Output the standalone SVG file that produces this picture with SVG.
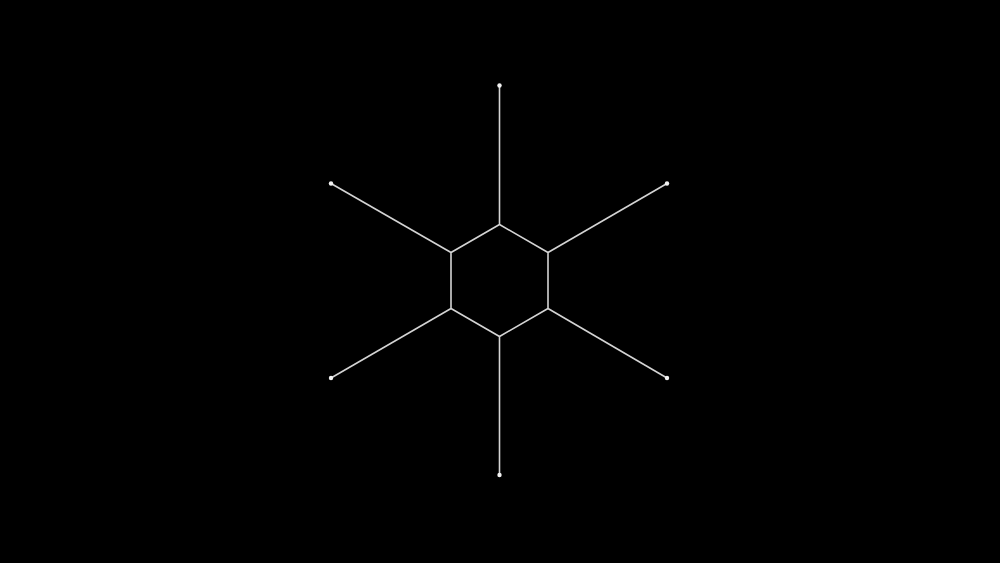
<svg xmlns="http://www.w3.org/2000/svg" width="1000" height="563" viewBox="0 0 1000 563">
<style>
.ln{stroke:#d4d4d4;stroke-width:1.6;fill:none;stroke-linejoin:round}
.dot{fill:#f2f2f2}
</style>
<rect width="1000" height="563" fill="#000"/>
<g id="connectors">
<line class="ln" x1="499.5" y1="224.5" x2="499.5" y2="85.5"/>
<line class="ln" x1="499.5" y1="336.5" x2="499.5" y2="475"/>
<line class="ln" x1="451" y1="252.5" x2="331" y2="183.5"/>
<line class="ln" x1="548" y1="252.5" x2="667" y2="183.5"/>
<line class="ln" x1="451" y1="308.5" x2="331" y2="378"/>
<line class="ln" x1="548" y1="308.5" x2="667" y2="378"/>
</g>
<g id="hexagon">
<polygon class="ln" points="499.5,224.5 548,252.5 548,308.5 499.5,336.5 451,308.5 451,252.5"/>
</g>
<g id="n-top"><circle class="dot" cx="499.5" cy="85.5" r="2.2"/></g>
<g id="n-bottom"><circle class="dot" cx="499.5" cy="475" r="2.2"/></g>
<g id="n-upper-left"><circle class="dot" cx="331" cy="183.5" r="2.2"/></g>
<g id="n-upper-right"><circle class="dot" cx="667" cy="183.5" r="2.2"/></g>
<g id="n-lower-left"><circle class="dot" cx="331" cy="378" r="2.2"/></g>
<g id="n-lower-right"><circle class="dot" cx="667" cy="378" r="2.2"/></g>
</svg>
